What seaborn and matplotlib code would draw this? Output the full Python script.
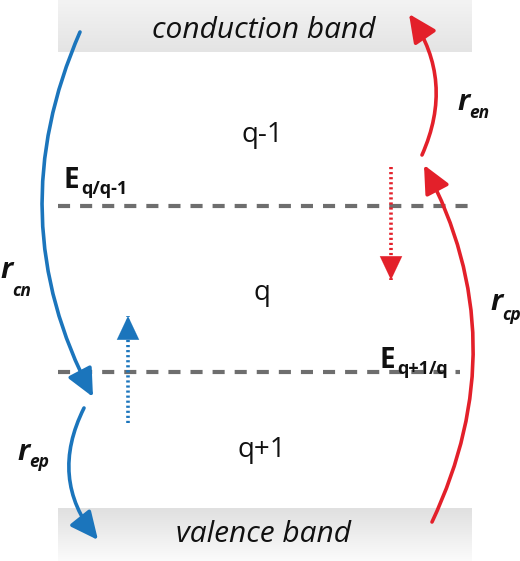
import numpy as np
import seaborn as sns
import matplotlib.pyplot as plt
from matplotlib.patches import FancyArrowPatch
from matplotlib.colors import LinearSegmentedColormap

sns.set_style("white")
plt.rcParams['font.family'] = ['Open Sans', 'DejaVu Sans']

W, H = 520, 561
blue = "#1b75bc"
red = "#e3202a"
grey = "#6e6e6e"
ink = "#111111"

# bands (pixel rows of the picture)
band_labels = ["conduction band", "valence band"]
band_top = [0, 508]
band_bottom = [52, 561]
band_text_y = [38, 542]
band_shade = [["#f3f3f3", "#e4e4e4"], ["#e0e0e0", "#fbfbfb"]]

# defect levels
level_names = ["q/q-1", "q+1/q"]
level_y = [206, 372]
level_x0 = [58, 58]
level_x1 = [472, 460]
level_label_x = [64, 380]
level_label_y = [188, 368]

# charge states
state_labels = ["q-1", "q", "q+1"]
state_y = [142, 300, 457]

# rate arrows
rate_names = ["cn", "ep", "en", "cp"]
rate_start = [(80, 32), (84, 408), (422, 155), (432, 522)]
rate_end = [(93, 397), (98, 540), (409, 14), (424, 165)]
rate_bend = [0.24, 0.32, 0.28, 0.25]
rate_color = [blue, blue, red, red]
rate_label_x = [0, 17, 457, 490]
rate_label_y = [278, 460, 110, 310]
rate_sub_drop = [18, 7, 8, 10]

# dotted transitions
dot_x = [128, 391]
dot_from = [423, 167]
dot_to = [316, 280]
dot_color = [blue, red]

fig = plt.figure(figsize=(W / 100, H / 100), dpi=100)
ax = fig.add_axes([0, 0, 1, 1])

# shaded bands
for lab, y0, y1, ty, sh in zip(band_labels, band_top, band_bottom, band_text_y, band_shade):
    cm = LinearSegmentedColormap.from_list("band", sh)
    grad = np.linspace(0, 1, 64).reshape(-1, 1)
    ax.imshow(grad, cmap=cm, aspect="auto", extent=(58, 472, y1, y0), zorder=0)
    ax.text(264, ty, lab, ha="center", va="baseline", fontsize=21.5,
            style="italic", fontweight="medium", color=ink)

# dashed levels
for name, y, x0, x1, lx, ly in zip(level_names, level_y, level_x0, level_x1,
                                    level_label_x, level_label_y):
    sns.lineplot(x=[x0, x1], y=[y, y], ax=ax, color=grey, lw=3,
                 linestyle=(0, (2.9, 2.4)), zorder=1)
    ax.text(lx, ly, "E", ha="left", va="baseline", fontsize=20,
            fontweight="bold", color=ink)
    ax.text(lx + 17, ly + 6, name, ha="left", va="baseline", fontsize=13,
            fontweight="bold", color=ink)

for lab, y in zip(state_labels, state_y):
    ax.text(262, y, lab, ha="center", va="baseline", fontsize=20,
            fontweight="medium", color=ink)

# curved rate arrows
for name, p0, p1, rad, c, lx, ly, drop in zip(rate_names, rate_start, rate_end, rate_bend,
                                               rate_color, rate_label_x, rate_label_y,
                                               rate_sub_drop):
    arr = FancyArrowPatch(p0, p1, connectionstyle=f"arc3,rad={rad}",
                          arrowstyle="-|>,head_length=17,head_width=8",
                          mutation_scale=1, color=c, lw=2.6,
                          shrinkA=0, shrinkB=0, zorder=3)
    ax.add_patch(arr)
    ax.text(lx, ly, "r", ha="left", va="baseline", fontsize=21,
            style="italic", fontweight="bold", color=ink)
    ax.text(lx + 12, ly + drop, name, ha="left", va="baseline", fontsize=12.5,
            style="italic", fontweight="bold", color=ink)

# dotted transitions
for x, y0, y1, c in zip(dot_x, dot_from, dot_to, dot_color):
    ax.plot([x, x], [y0, y1], color=c, lw=2.6, linestyle=(0, (0.6, 0.8)), zorder=3)
    step = np.sign(y1 - y0)
    head = FancyArrowPatch((x, y1 - 20 * step), (x, y1),
                           arrowstyle="-|>,head_length=17,head_width=8",
                           mutation_scale=1, color=c, lw=0.1,
                           shrinkA=0, shrinkB=0, zorder=4)
    ax.add_patch(head)

ax.set_xlim(0, W)
ax.set_ylim(H, 0)
ax.axis("off")
fig.savefig("out.png", dpi=100)
